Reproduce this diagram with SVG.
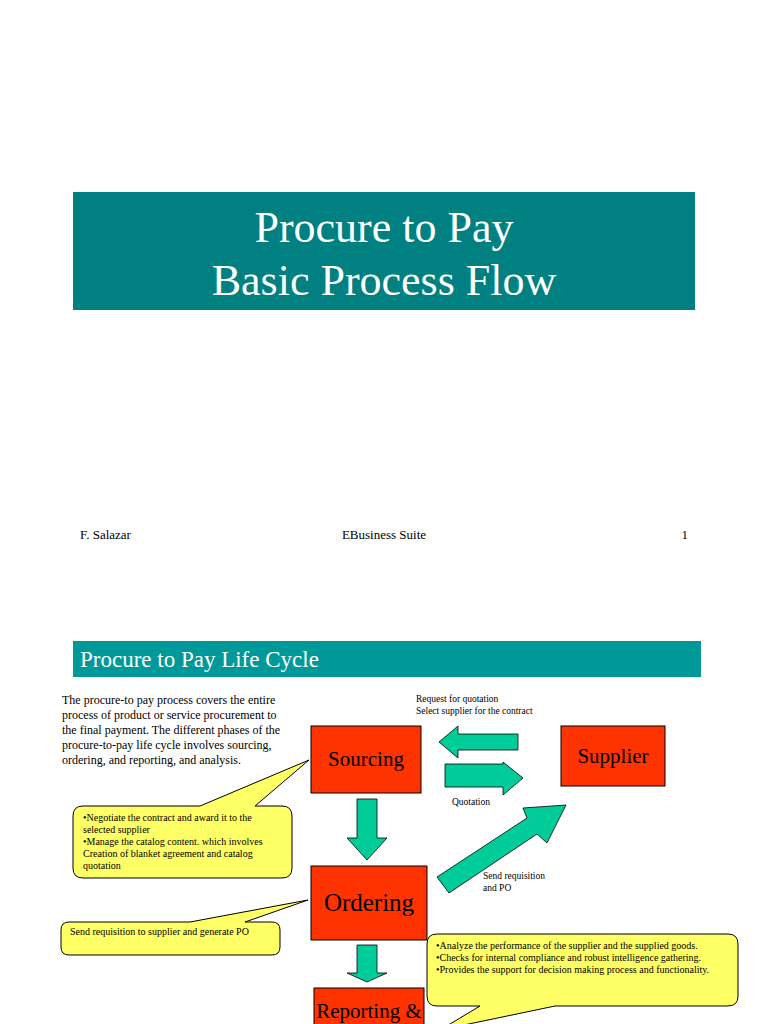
<svg xmlns="http://www.w3.org/2000/svg" width="768" height="1024" viewBox="0 0 768 1024">
<style>
text{font-family:"Liberation Serif","Times New Roman",serif;fill:#000}
.w{fill:#fff}
.box{fill:#ff3300;stroke:#000;stroke-width:1}
.arr{fill:#00cc99;stroke:#000;stroke-width:0.8}
.call{fill:#ffff66;stroke:#000;stroke-width:1}
.s{font-size:10px}
.l{font-size:9.5px}
.m{font-size:12px}
</style>
<rect width="768" height="1024" fill="#fff"/>
<g id="title">
<rect x="73" y="192" width="622" height="118" fill="#008080"/>
<text class="w" x="384" y="242" font-size="44" text-anchor="middle">Procure to Pay</text>
<text class="w" x="384" y="295" font-size="44" text-anchor="middle">Basic Process Flow</text>
</g>
<g id="footer">
<text x="80" y="539" font-size="13">F. Salazar</text>
<text x="384" y="539" font-size="13" text-anchor="middle">EBusiness Suite</text>
<text x="688" y="539" font-size="13" text-anchor="end">1</text>
</g>
<g id="header">
<rect x="73" y="641" width="628" height="36" fill="#009999"/>
<text class="w" x="80" y="667" font-size="23">Procure to Pay Life Cycle</text>
</g>
<g id="intro">
<text x="62" y="704" class="m">The procure-to pay process covers the entire</text>
<text x="62" y="719" class="m">process of product or service procurement to</text>
<text x="62" y="734" class="m">the final payment. The different phases of the</text>
<text x="62" y="749" class="m">procure-to-pay life cycle  involves sourcing,</text>
<text x="62" y="764" class="m">ordering, and reporting, and analysis.</text>
</g>
<g id="connectors">
<polygon class="arr" points="518,734 458,734 458,726 439,742 458,758 458,750 518,750"/>
<polygon class="arr" points="445,764 503,764 503,762 523,778 503,795 503,787 445,787"/>
<polygon class="arr" points="357,799 377,799 377,838 387,838 367,860 347,838 357,838"/>
<polygon class="arr" points="357,945 377,945 377,973 387,973 367,982 347,973 357,973"/>
<polygon class="arr" points="437,877 527,818 523,808 566,805 547,843 537,834 449,893"/>
</g>
<g id="labels">
<text x="416" y="702" class="l">Request for quotation</text>
<text x="416" y="714" class="l">Select supplier for the contract</text>
<text x="452" y="805" class="l">Quotation</text>
<text x="483" y="879" class="l">Send requisition</text>
<text x="483" y="891" class="l">and PO</text>
</g>
<g id="sourcing"><rect class="box" x="311" y="726" width="110" height="67"/><text x="366" y="766" font-size="21" text-anchor="middle">Sourcing</text></g>
<g id="supplier"><rect class="box" x="561" y="726" width="104" height="60"/><text x="613" y="763" font-size="21" text-anchor="middle">Supplier</text></g>
<g id="ordering"><rect class="box" x="311" y="866" width="116" height="74"/><text x="369" y="911" font-size="25" text-anchor="middle">Ordering</text></g>
<g id="reporting"><rect class="box" x="314" y="988" width="110" height="40"/><text x="369" y="1018" font-size="21" text-anchor="middle">Reporting &amp;</text></g>
<g id="callout1">
<path class="call" d="M83,806 H200 L309,760 L255,806 H282 Q292,806 292,816 V868 Q292,878 282,878 H83 Q73,878 73,868 V816 Q73,806 83,806 Z"/>
<text x="83" y="821" class="s">•Negotiate the contract and award it to the</text>
<text x="83" y="833" class="s">selected supplier</text>
<text x="83" y="845" class="s">•Manage the catalog content. which involves</text>
<text x="83" y="857" class="s">Creation of blanket agreement and catalog</text>
<text x="83" y="869" class="s">quotation</text>
</g>
<g id="callout2">
<path class="call" d="M69,922 H190 L308,900 L245,922 H272 Q280,922 280,930 V947 Q280,955 272,955 H69 Q61,955 61,947 V930 Q61,922 69,922 Z"/>
<text x="70" y="935" class="s">Send requisition to supplier and generate PO</text>
</g>
<g id="callout3">
<path class="call" d="M437,934 H728 Q738,934 738,944 V996 Q738,1006 728,1006 H555 L440,1030 L480,1006 H437 Q427,1006 427,996 V944 Q427,934 437,934 Z"/>
<text x="436" y="949" class="s">•Analyze the performance of the supplier and the supplied goods.</text>
<text x="436" y="961" class="s">•Checks for internal compliance and robust intelligence gathering.</text>
<text x="436" y="973" class="s">•Provides the support for decision making process and functionality.</text>
</g>
</svg>
